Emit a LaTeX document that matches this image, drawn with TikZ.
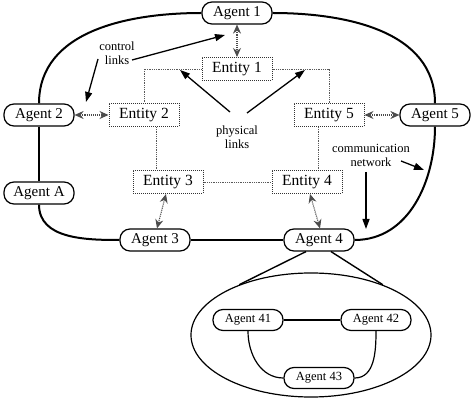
\documentclass[tikz,border=0pt]{standalone}
\usepackage{fontspec}
\setmainfont{Liberation Serif}
\usetikzlibrary{arrows.meta,shapes.geometric}

\begin{document}
\begin{tikzpicture}[x=1pt, y=-1pt,
    agent/.style={draw, line width=1.2pt, rounded corners=10pt, minimum width=70pt, minimum height=22pt, inner sep=0pt, font=\fontsize{15}{16}\selectfont},
    subagent/.style={agent, minimum height=21pt, font=\fontsize{12.5}{14}\selectfont},
    entity/.style={draw=black!80, densely dotted, line width=1pt, minimum width=70pt, minimum height=23pt, inner sep=0pt, font=\fontsize{15.5}{16}\selectfont},
    net/.style={line width=2pt},
    phys/.style={black!65, densely dotted, line width=0.8pt},
    ctrl/.style={{Stealth[length=9pt,width=8pt]}-{Stealth[length=9pt,width=8pt]}, black!70, densely dotted, line width=1.1pt},
    note/.style={-{Triangle[length=10pt,width=7pt]}, line width=1.3pt},
    notetext/.style={align=center, font=\fontsize{12.5}{14}\selectfont, inner sep=1pt}
]
\useasboundingbox (0,0) rectangle (474,403);

% Agents
\node[agent] (a1) at (237,13) {Agent 1};
\node[agent] (a2) at (39,115) {Agent 2};
\node[agent] (a5) at (435,115) {Agent 5};
\node[agent] (aA) at (39,193) {Agent A};
\node[agent] (a3) at (155,240) {Agent 3};
\node[agent] (a4) at (319,240) {Agent 4};

% Entities
\node[entity] (e1) at (237,69) {Entity 1};
\node[entity] (e2) at (144,115) {Entity 2};
\node[entity] (e5) at (329,115) {Entity 5};
\node[entity] (e3) at (168,182) {Entity 3};
\node[entity] (e4) at (307,182) {Entity 4};

% Communication network
\draw[net] (a1.west) to[out=180,in=90] (a2.north);
\draw[net] (a1.east) to[out=0,in=90] (a5.north);
\draw[net] (a2.south) -- (aA.north);
\draw[net] (aA.south) to[out=-90,in=180] (a3.west);
\draw[net] (a3.east) -- (a4.west);
\draw[net] (a4.east) to[out=0,in=-90] (a5.south);

% Physical links
\draw[phys] (e1.west) -| (e2.north);
\draw[phys] (e1.east) -| (e5.north);
\draw[phys] ([xshift=12pt]e2.south) -- ([xshift=-12pt]e3.north);
\draw[phys] ([xshift=-11pt]e5.south) -- ([xshift=11pt]e4.north);
\draw[phys] (e3.east) -- (e4.west);

% Control links
\draw[ctrl] (a1.south) -- (e1.north);
\draw[ctrl] (a2.east) -- (e2.west);
\draw[ctrl] (e5.east) -- (a5.west);
\draw[ctrl] ([xshift=-2pt]e3.south) -- ([xshift=2pt]a3.north);
\draw[ctrl] ([xshift=3pt]e4.south) -- ([xshift=1pt]a4.north);

% Labels and pointers
\node[notetext] (tctrl) at (117,53) {control\\links};
\node[notetext] (tphys) at (237,137) {physical\\links};
\node[notetext] (tcomm) at (371,155) {communication\\network};
\coordinate (cc1) at (225,35);
\coordinate (cc2) at (86,102);
\coordinate (pp1) at (180,70);
\coordinate (pp2) at (305,70);
\coordinate (nn1) at (424,170);
\coordinate (nn2) at (366,229);
\draw[note] (132,60) -- (cc1);
\draw[note] (98,59) -- (cc2);
\draw[note] (230,112) -- (pp1);
\draw[note] (247,113) -- (pp2);
\draw[note] (401,161) -- (nn1);
\draw[note] (366,172) -- (nn2);

% Agent 4 in detail
\node[ellipse, draw, line width=1.2pt, minimum width=240pt, minimum height=124pt] (sub) at (311,335) {};
\draw[line width=1.4pt] ([xshift=-13pt]a4.south) -- (sub.145);
\draw[line width=1.4pt] ([xshift=12pt]a4.south) -- (sub.35);
\node[subagent] (a41) at (248,320) {Agent 41};
\node[subagent] (a42) at (376,320) {Agent 42};
\node[subagent] (a43) at (319,378) {Agent 43};
\draw[line width=1.2pt] (a41) -- (a42);
\draw[line width=1.2pt] (a41.south) to[out=-90,in=180] (a43.west);
\draw[line width=1.2pt] (a42.south) to[out=-90,in=0] (a43.east);

\end{tikzpicture}
\end{document}
